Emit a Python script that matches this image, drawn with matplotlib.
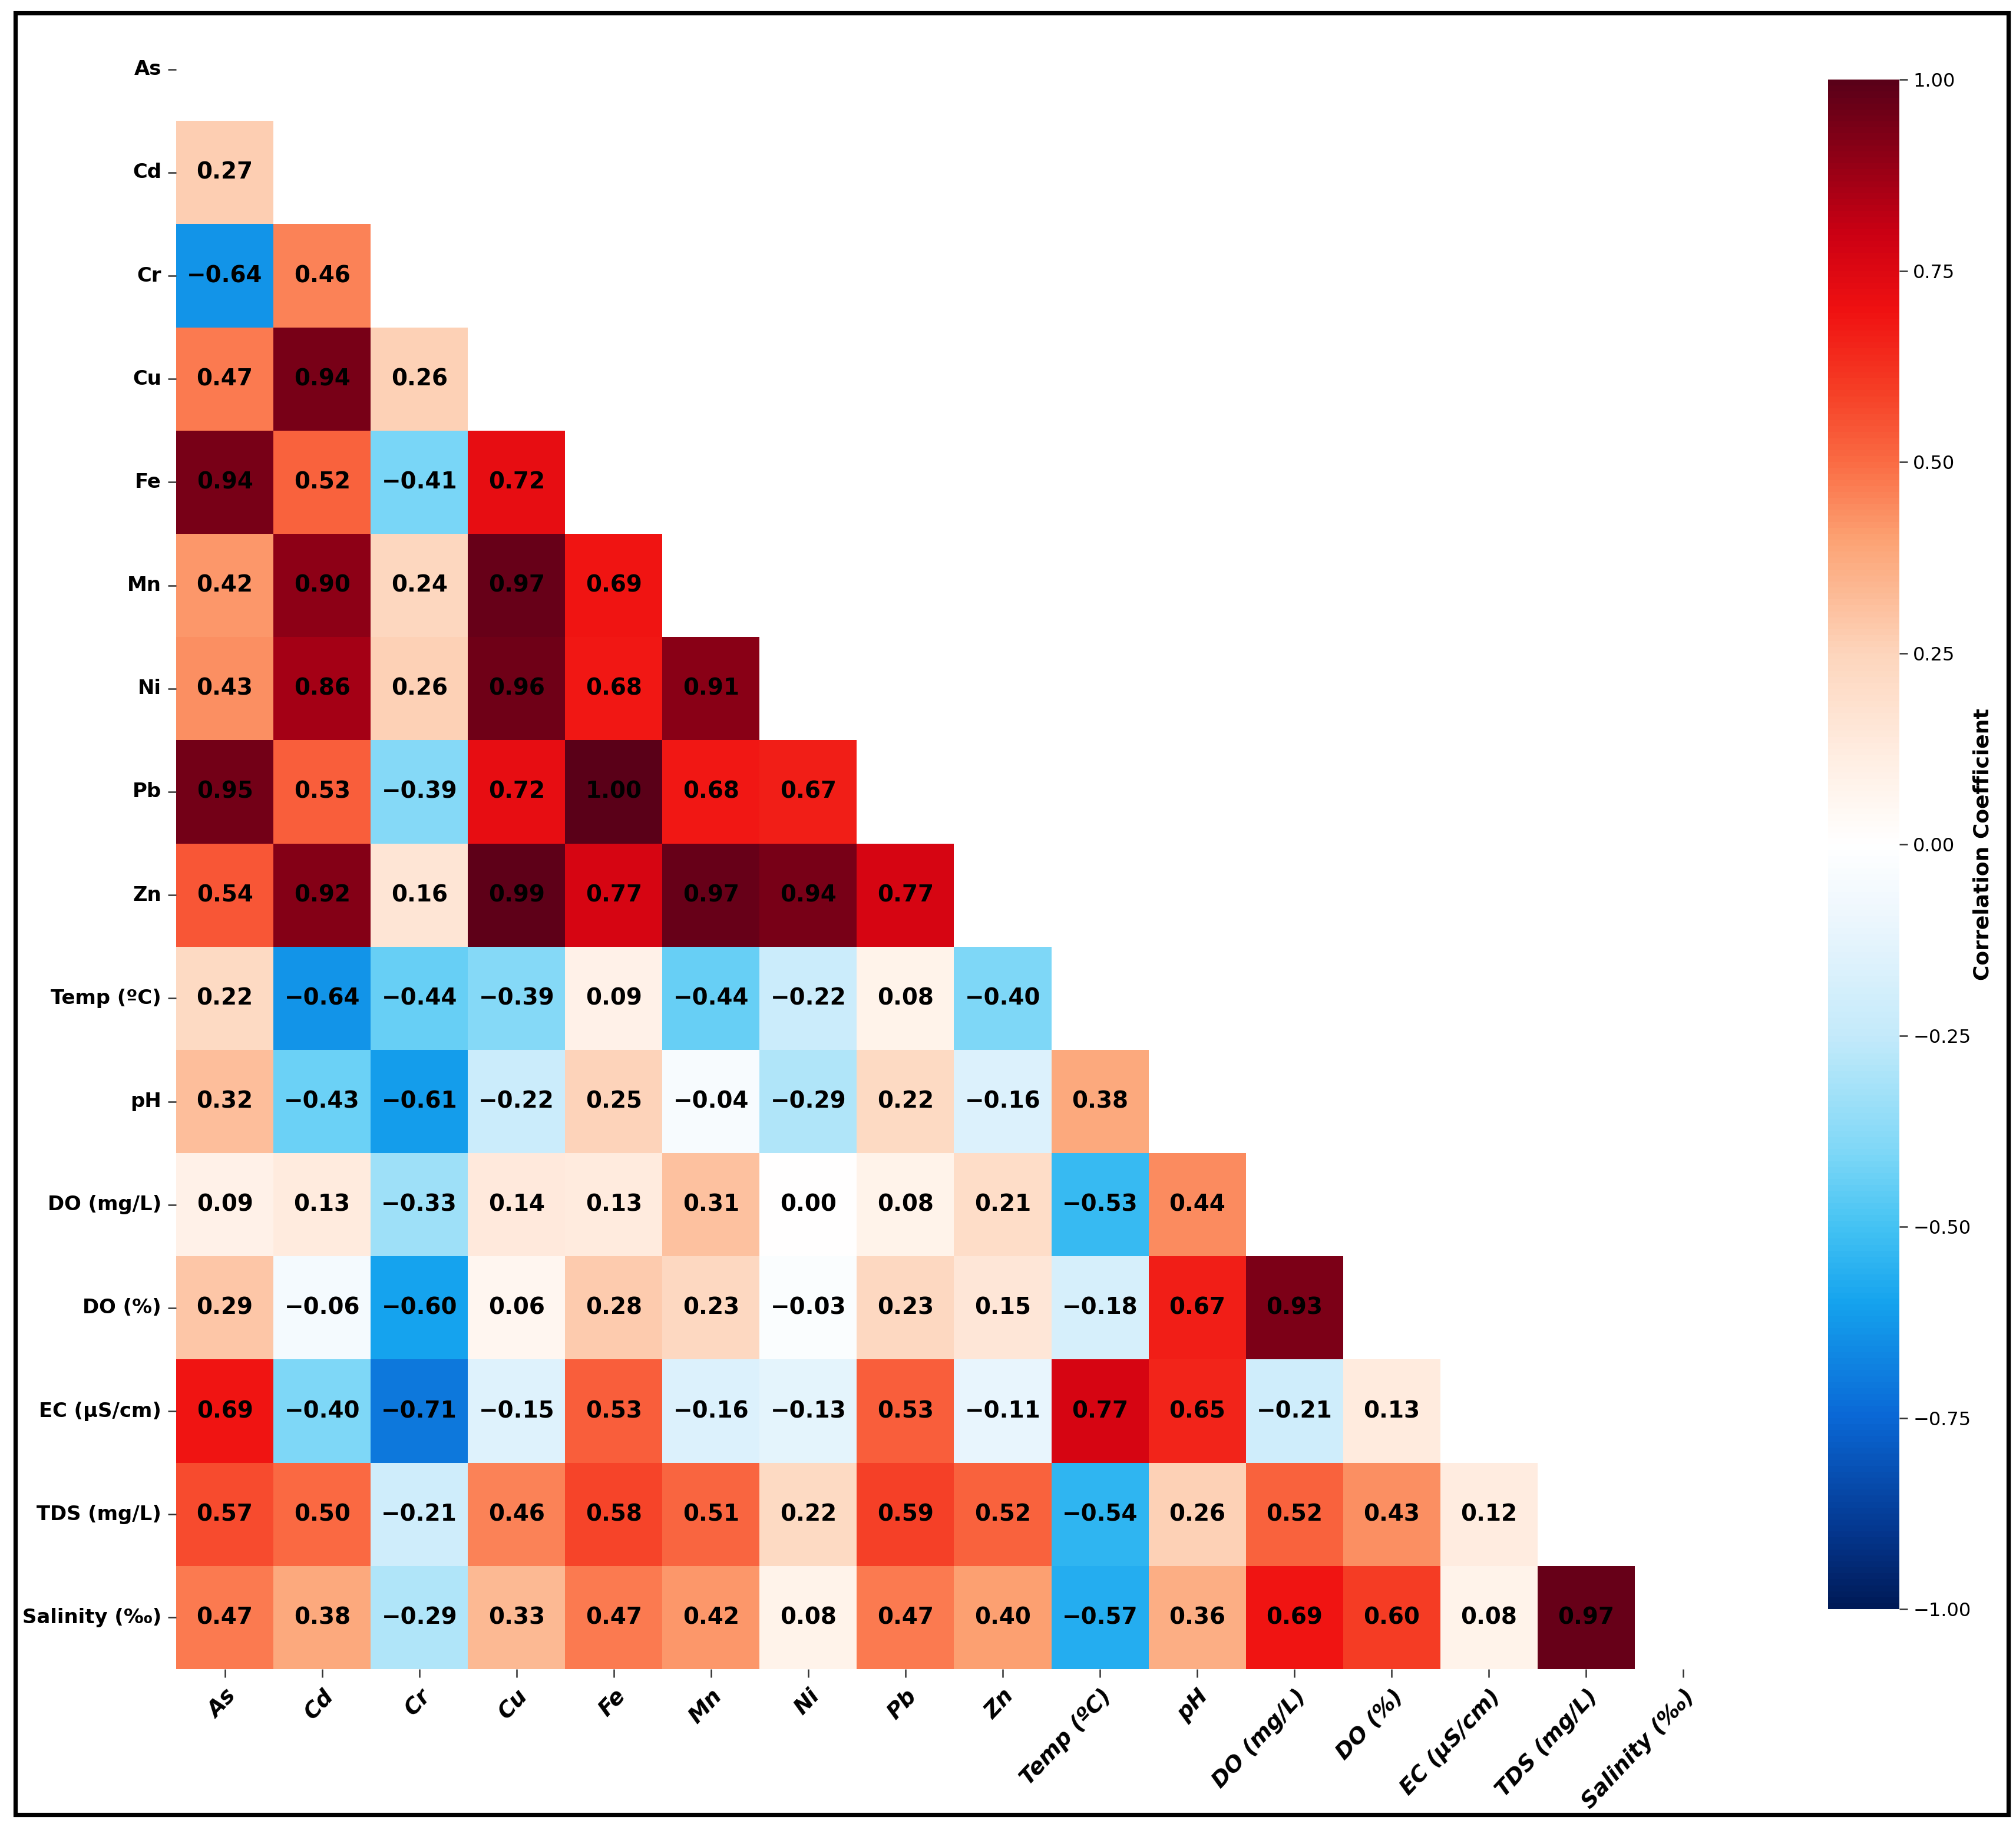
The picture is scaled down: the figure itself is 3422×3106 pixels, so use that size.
import numpy as np
import pandas as pd
import matplotlib
matplotlib.use("Agg")
import matplotlib.pyplot as plt
import seaborn as sns
from matplotlib.colors import LinearSegmentedColormap
from matplotlib.patches import Rectangle
from matplotlib.ticker import FuncFormatter

labels = ["As", "Cd", "Cr", "Cu", "Fe", "Mn", "Ni", "Pb", "Zn",
          "Temp (ºC)", "pH", "DO (mg/L)", "DO (%)", "EC (µS/cm)",
          "TDS (mg/L)", "Salinity (‰)"]

# lower-triangle values, row by row (row i has i values)
row_Cd = [0.27]
row_Cr = [-0.64, 0.46]
row_Cu = [0.47, 0.94, 0.26]
row_Fe = [0.94, 0.52, -0.41, 0.72]
row_Mn = [0.42, 0.90, 0.24, 0.97, 0.69]
row_Ni = [0.43, 0.86, 0.26, 0.96, 0.68, 0.91]
row_Pb = [0.95, 0.53, -0.39, 0.72, 1.00, 0.68, 0.67]
row_Zn = [0.54, 0.92, 0.16, 0.99, 0.77, 0.97, 0.94, 0.77]
row_Temp = [0.22, -0.64, -0.44, -0.39, 0.09, -0.44, -0.22, 0.08, -0.40]
row_pH = [0.32, -0.43, -0.61, -0.22, 0.25, -0.04, -0.29, 0.22, -0.16, 0.38]
row_DOmg = [0.09, 0.13, -0.33, 0.14, 0.13, 0.31, 0.00, 0.08, 0.21, -0.53, 0.44]
row_DOpct = [0.29, -0.06, -0.60, 0.06, 0.28, 0.23, -0.03, 0.23, 0.15, -0.18, 0.67, 0.93]
row_EC = [0.69, -0.40, -0.71, -0.15, 0.53, -0.16, -0.13, 0.53, -0.11, 0.77, 0.65, -0.21, 0.13]
row_TDS = [0.57, 0.50, -0.21, 0.46, 0.58, 0.51, 0.22, 0.59, 0.52, -0.54, 0.26, 0.52, 0.43, 0.12]
row_Sal = [0.47, 0.38, -0.29, 0.33, 0.47, 0.42, 0.08, 0.47, 0.40, -0.57, 0.36, 0.69, 0.60, 0.08, 0.97]

rows = [[], row_Cd, row_Cr, row_Cu, row_Fe, row_Mn, row_Ni, row_Pb, row_Zn,
        row_Temp, row_pH, row_DOmg, row_DOpct, row_EC, row_TDS, row_Sal]

n = len(labels)
M = np.eye(n)
for i, r in enumerate(rows):
    for j, v in enumerate(r):
        M[i, j] = v
        M[j, i] = v
df = pd.DataFrame(M, index=labels, columns=labels)
mask = np.triu(np.ones_like(M, dtype=bool))

def fmt_val(v):
    s = f"{v:.2f}"
    return s.replace("-", "\u2212")
annot = np.vectorize(fmt_val)(M)

cmap_pos = [0.0, 0.05, 0.125, 0.2, 0.25, 0.3, 0.375, 0.45, 0.5,
            0.55, 0.625, 0.7, 0.75, 0.8, 0.85, 0.9, 0.95, 1.0]
cmap_cols = ["#001a57", "#04378f", "#0a68d6", "#15a3ee", "#45c3f3", "#80d8f7",
             "#c4eafa", "#ecf6fd", "#ffffff", "#fff0e6", "#fdd5bc", "#fca273",
             "#fa6c44", "#f53c24", "#f01111", "#cc0013", "#900016", "#5a0018"]
cmap = LinearSegmentedColormap.from_list("corr", list(zip(cmap_pos, cmap_cols)))

plt.rcParams['font.family'] = ['DejaVu Sans']

fig = plt.figure(figsize=(3422/200, 3106/200), dpi=200)
ax = fig.add_axes([0.0874, 0.0879, 0.7717, 0.9024])
cax = fig.add_axes([0.9069, 0.1207, 0.0351, 0.8358])

sns.heatmap(df, mask=mask, cmap=cmap, vmin=-1, vmax=1, annot=annot, fmt="",
            annot_kws={"size": 14, "weight": "bold", "color": "black"},
            ax=ax, cbar_ax=cax, linewidths=0)

ax.set_xticks(np.arange(n) + 0.5)
ax.set_xticklabels(labels, rotation=47, ha="right", rotation_mode="anchor",
                   fontsize=13.5, fontweight="bold", fontstyle="oblique")
ax.set_yticks(np.arange(n) + 0.5)
ax.set_yticklabels(labels, rotation=0, fontsize=12.2, fontweight="bold")
ax.tick_params(axis="both", length=5, width=0.9, color="#333333", pad=4)
ax.tick_params(axis="x", pad=5)

cticks = [-1.0, -0.75, -0.5, -0.25, 0.0, 0.25, 0.5, 0.75, 1.0]
cax.set_yticks(cticks)
cax.yaxis.set_major_formatter(FuncFormatter(lambda v, p: f"{v:.2f}".replace("-", "\u2212")))
cax.tick_params(labelsize=11.5, length=5, width=0.9, color="#333333")
cax.set_ylabel("Correlation Coefficient", fontsize=13, fontweight="bold", labelpad=1)

fig.patches.append(Rectangle((0.0076, 0.0084), 0.9886, 0.9845, transform=fig.transFigure,
                             fill=False, edgecolor="black", linewidth=2.6, zorder=10))

fig.savefig("out.png", dpi=200, facecolor="white")
